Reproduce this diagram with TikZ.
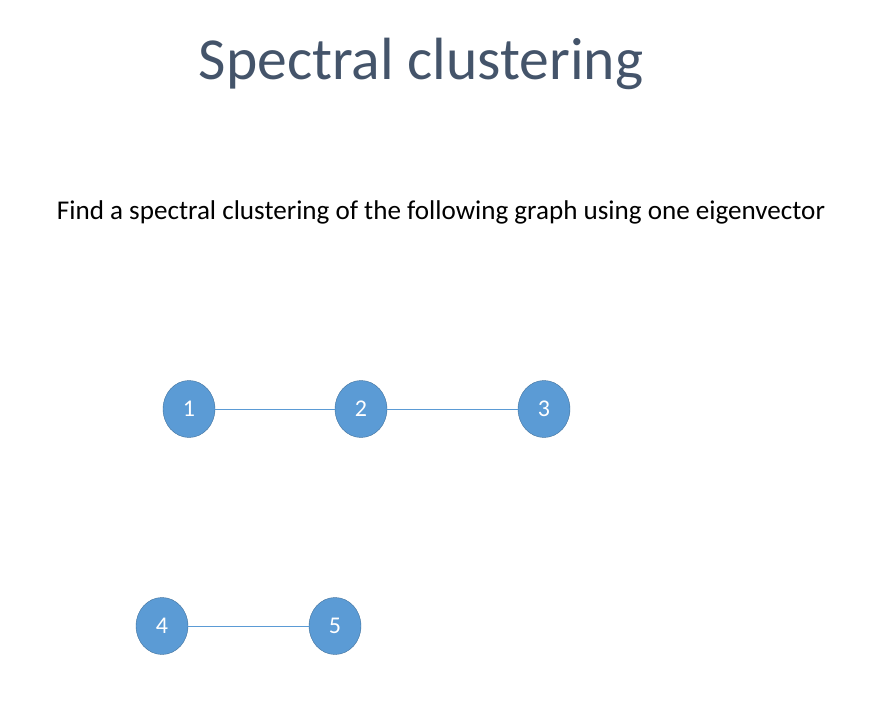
\documentclass[tikz,border=0pt]{standalone}
\usepackage{fontspec}
\setmainfont{Carlito}
\usetikzlibrary{shapes.geometric}
\definecolor{nodefill}{HTML}{5B9BD5}
\definecolor{nodeedge}{HTML}{41719C}
\definecolor{titlecol}{HTML}{44546A}
\begin{document}
\begin{tikzpicture}[x=1pt,y=-1pt,
  vert/.style={ellipse,draw=nodeedge,fill=nodefill,minimum width=52pt,minimum height=57pt,inner sep=0pt,text=white,font=\fontsize{24}{28}\selectfont},
  edge/.style={draw=nodefill,line width=0.8pt}]
\useasboundingbox[fill=white] (0,0) rectangle (886,709);
\node[text=titlecol,font=\fontsize{59.6}{66}\selectfont] (title) at (421,64) {Spectral clustering};
\node[font=\fontsize{27.1}{30}\selectfont] (sub) at (441,212) {Find a spectral clustering of the following graph using one eigenvector};
\node[vert] (n1) at (189,409) {1};
\node[vert] (n2) at (361,409) {2};
\node[vert] (n3) at (544,409) {3};
\node[vert] (n4) at (162,626) {4};
\node[vert] (n5) at (335,626) {5};
\draw[edge] (n1) -- (n2);
\draw[edge] (n2) -- (n3);
\draw[edge] (n4) -- (n5);
\end{tikzpicture}
\end{document}
